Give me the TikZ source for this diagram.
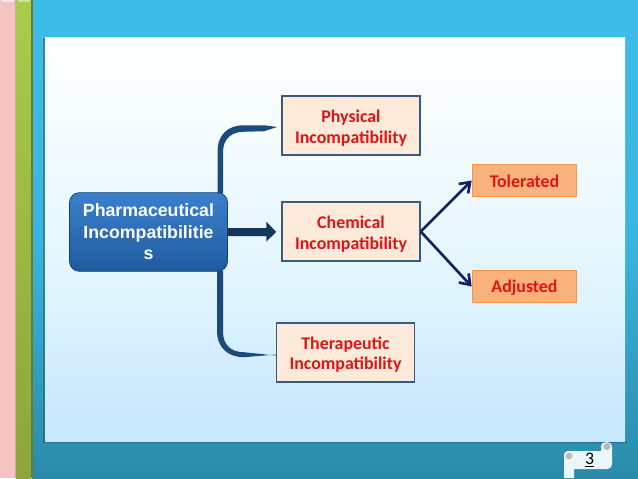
\documentclass[tikz,border=0pt]{standalone}
\usepackage{fontspec}
\setmainfont{Carlito}
\newfontfamily\armo{Liberation Sans}
\usetikzlibrary{calc,arrows.meta}
\definecolor{peach}{HTML}{FDEADA}
\definecolor{slateb}{HTML}{3A5A84}
\definecolor{orangef}{HTML}{F9B27C}
\definecolor{oranged}{HTML}{F79646}
\definecolor{redt}{HTML}{E01414}
\definecolor{navyb}{HTML}{1B4A7E}
\definecolor{arrowb}{HTML}{12235F}
\definecolor{skytop}{HTML}{3CBDE8}
\definecolor{skybot}{HTML}{2A8BA9}
\definecolor{paneb}{HTML}{C6E7FD}
\definecolor{panem}{HTML}{E8F8FF}
\definecolor{pinks}{HTML}{F6C3C3}
\definecolor{greens}{HTML}{A9CC4A}
\definecolor{greenb}{HTML}{8DA53B}
\definecolor{mainT}{HTML}{3A80CC}
\definecolor{mainB}{HTML}{205B9F}
\newcommand{\lowerA}{\rule{0pt}{13.5pt}}
\newcommand{\lowerB}{\rule{0pt}{12.5pt}}
\newcommand{\lowerC}{\rule{0pt}{11.2pt}}
\tikzset{
  kindbox/.style={draw=slateb,line width=1.1pt,fill=peach,minimum width=103.5pt,minimum height=44pt,inner sep=0pt,align=center,text=redt,font=\bfseries\fontsize{13.4}{15.2}\selectfont},
  outcome/.style={draw=oranged,line width=0.8pt,fill=orangef,minimum width=78.5pt,minimum height=24.5pt,inner sep=0pt,align=center,text=redt,font=\bfseries\fontsize{13.4}{15.2}\selectfont},
  mainbox/.style={draw=mainB!70!black,line width=0.6pt,rounded corners=7.5pt,top color=mainT,bottom color=mainB,minimum width=118.5pt,minimum height=59pt,inner sep=0pt,align=center,text=white,font=\armo\bfseries\fontsize{13.3}{16.1}\selectfont},
  branch/.style={arrowb,line width=2pt,-{Straight Barb[length=7pt,width=10pt,line width=2pt]}},
  tapered/.style={fill=navyb,draw=none},
}
\begin{document}
\begin{tikzpicture}[x=0.75pt,y=-0.75pt]
\useasboundingbox (0,0) rectangle (638,478);
% backdrop
\shade[top color=skytop,bottom color=skybot,middle color=skytop!85!skybot] (32,0) rectangle (638,478);
\fill[pinks] (0,0) rectangle (16,478);
\shade[top color=greens,bottom color=greenb] (16,0) rectangle (31,478);
\fill[black!25!greenb] (30.5,0) rectangle (32.5,478);
\fill[black!15!pinks] (15.2,0) rectangle (16.4,478);
\fill[white!60!pinks] (2,0) rectangle (14,2);
\fill[white!40!greens] (18,0) rectangle (30,2);
\fill[black!35!skybot,opacity=.5] (43,38) rectangle (45,443);
\fill[black!35!skybot,opacity=.5] (43,441) rectangle (627,443);
\shade[top color=white,bottom color=paneb,middle color=panem] (45,38) rectangle (625,441);
% page tab
\fill[white!65!paneb] (601,451) -- (601,447) .. controls (601,443) and (604,442) .. (607,442) .. controls (610,442) and (612,444) .. (612,448) -- (612,463) .. controls (612,467) and (610,469) .. (606,469) -- (574,469) -- (574,478) -- (564,478) -- (564,456) .. controls (564,452) and (566,451) .. (570,451) -- cycle;
\fill[black!28] (607,446.5) circle (3.5);
\fill[black!25] (569,456) circle (3.5);
\node[font=\fontsize{13.3}{15}\selectfont,inner sep=0pt,text=black] (pagenum) at (589.5,460) {\underline{3}};
% nodes
\node[mainbox] (main) at (148.5,232) {Pharmaceutical\\Incompatibilitie\\s};
\node[kindbox] (phys) at (351,125.5) {\lowerA Physical\\Incompatibility};
\node[kindbox] (chem) at (351,231.5) {\lowerA Chemical\\Incompatibility};
\node[kindbox] (ther) at (345.5,352.5) {\lowerB Therapeutic\\Incompatibility};
\node[outcome] (tol) at (524.5,180.5) {\lowerC Tolerated};
\node[outcome] (adj) at (524.5,286.5) {\lowerC Adjusted};
% tapered connectors
\coordinate (upS) at (main.north -| 220,0);
\coordinate (dnS) at (main.south -| 220,0);
\path[tapered] (upS) ++(-2.5,1) -- ++(0,-41) .. controls ($(upS)+(-2.5,-58)$) and ($(upS)+(8,-67)$) .. ($(upS)+(24,-67)$)
  -- ($(upS)+(44,-67)$) -- ($(phys.west)+(-4,1.5)$) -- ($(upS)+(44,-61)$) -- ($(upS)+(24,-60.5)$)
  .. controls ($(upS)+(12,-60.5)$) and ($(upS)+(3,-54)$) .. ($(upS)+(3,-40)$) -- ($(upS)+(3,1)$) -- cycle;
\path[tapered] (dnS) ++(-3,-1) -- ++(0,60) .. controls ($(dnS)+(-3,76)$) and ($(dnS)+(8,85.5)$) .. ($(dnS)+(24,85.5)$)
  -- ($(ther.west)+(0,2)$) -- ($(ther.west)+(0,3)$) -- ($(dnS)+(24,80.5)$)
  .. controls ($(dnS)+(11,80.5)$) and ($(dnS)+(3,73)$) .. ($(dnS)+(3,60)$) -- ($(dnS)+(3,-1)$) -- cycle;
\path[fill=navyb!75!black] ($(main.east)+(0,-4)$) -- ($(chem.west)+(-15,-3.5)$) -- ($(chem.west)+(-15,-10)$) -- ($(chem.west)+(-5,0.5)$) -- ($(chem.west)+(-15,10)$) -- ($(chem.west)+(-15,4.5)$) -- ($(main.east)+(0,4)$) -- cycle;
% plain arrows
\draw[branch] (chem.east) -- (tol.west);
\draw[branch] (chem.east) -- (adj.west);
\end{tikzpicture}
\end{document}
